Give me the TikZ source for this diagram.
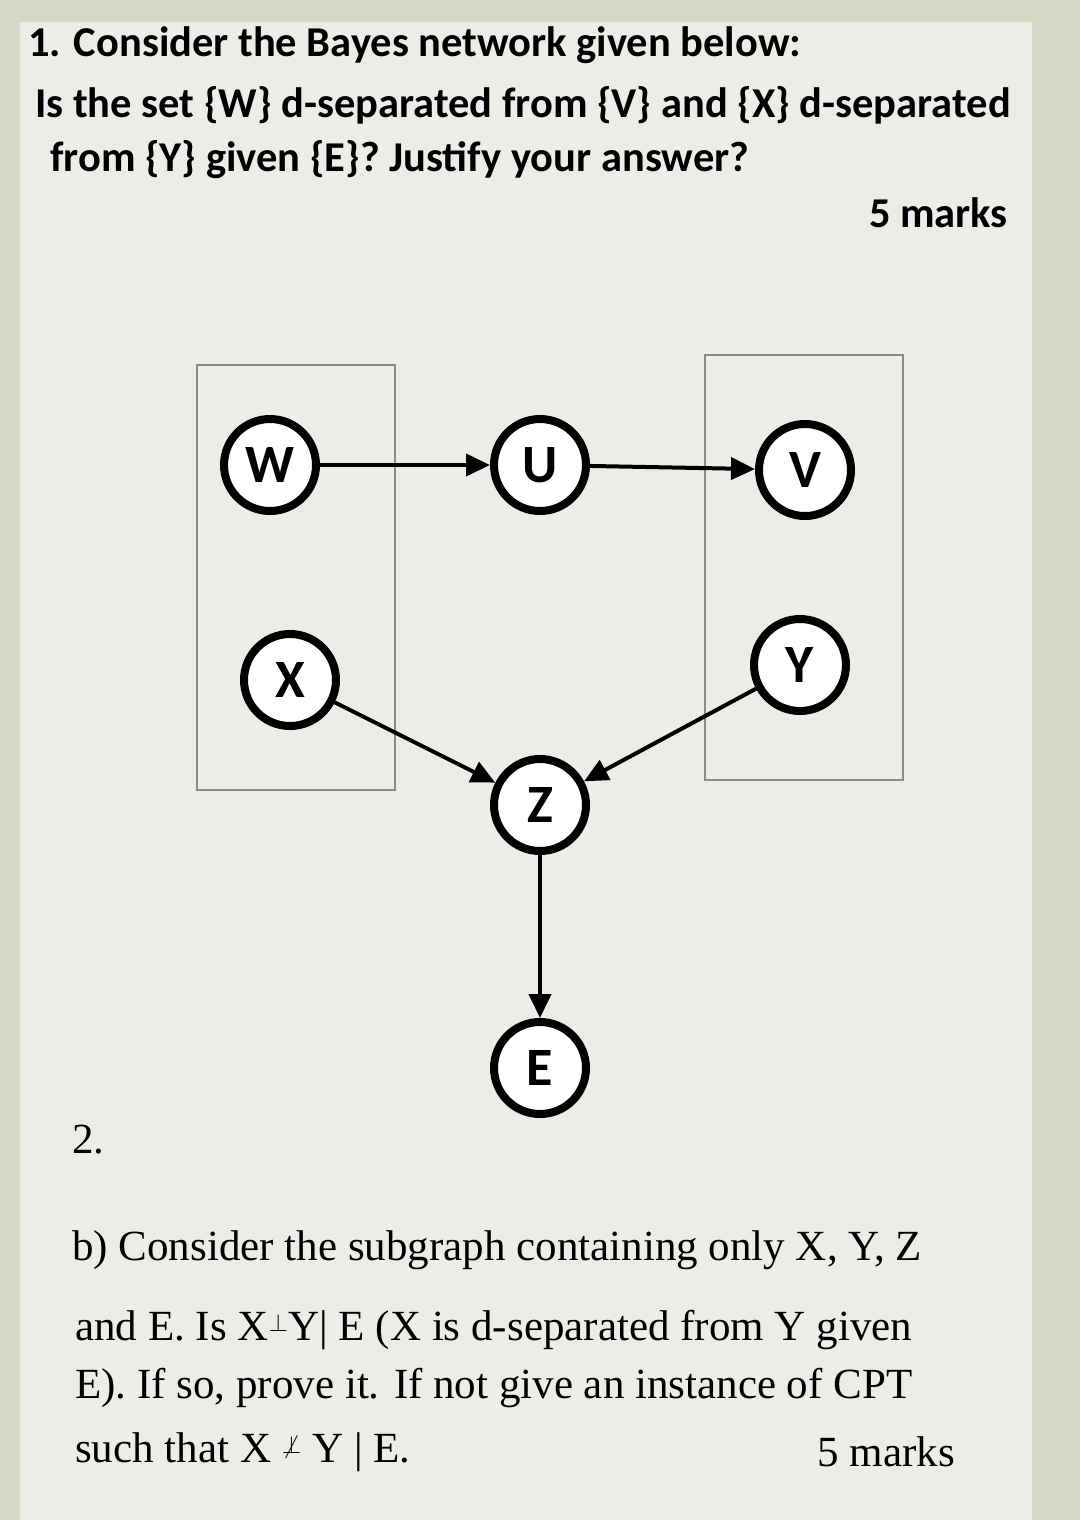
\documentclass[tikz,border=0pt]{standalone}
\usepackage{fontspec}
\usepackage{amssymb}
\setmainfont{Liberation Serif}
\newfontfamily\calfont{Carlito}
\usetikzlibrary{arrows.meta}
\definecolor{bgout}{HTML}{D3D9C4}
\definecolor{bgin}{HTML}{ECEDE8}
\definecolor{boxgray}{HTML}{8A8A88}
\tikzset{
  bn/.style={circle,draw=black,line width=8pt,minimum size=92pt,inner sep=0pt,fill=white,font=\calfont\bfseries\fontsize{54}{58}\selectfont},
  arr/.style={line width=4pt,-{Triangle[length=24pt,width=22pt]}},
  grp/.style={draw=boxgray,line width=2pt},
  qt/.style={anchor=west,inner sep=0pt,font=\calfont\bfseries\fontsize{42.5}{48}\selectfont},
  bt/.style={anchor=west,inner sep=0pt,font=\fontsize{43}{48}\selectfont}
}
\begin{document}
\begin{tikzpicture}[x=1pt,y=-1pt]
\useasboundingbox (0,0) rectangle (1080,1520);
\fill[bgout] (0,0) rectangle (1080,1520);
\fill[bgin] (20,22) rectangle (1032,1520);
\node[qt] (t1) at (28,45) {1. Consider the Bayes network given below:};
\node[qt] (t2) at (35,105) {Is the set \{W\} d-separated from \{V\} and \{X\} d-separated};
\node[qt] (t3) at (50,160) {from \{Y\} given \{E\}? Justify your answer?};
\node[qt,anchor=east] (m1) at (1008,213) {5 marks};
\draw[grp] (197,365) rectangle (395,790);
\draw[grp] (705,355) rectangle (903,780);
\node[bn] (W) at (270,465) {W};
\node[bn] (U) at (540,465) {U};
\node[bn] (V) at (805,470) {V};
\node[bn] (X) at (290,680) {X};
\node[bn] (Y) at (800,665) {Y};
\node[bn] (Z) at (540,805) {Z};
\node[bn] (E) at (540,1068) {E};
\draw[arr] (W) -- (U);
\draw[arr] (U) -- (V);
\draw[arr] (X) -- (Z);
\draw[arr] (Y) -- (Z);
\draw[arr] (Z) -- (E);
\node[bt] (n2) at (72,1140) {2.};
\node[bt] (b1) at (72,1250) {b) Consider the subgraph containing only X, Y, Z};
\node[bt] (b2) at (75,1330) {and E. Is X$^{\perp}$Y| E (X is d-separated from Y given};
\node[bt] (b3) at (75,1388) {E). If so, prove it. If not give an instance of CPT};
\node[bt] (b4) at (75,1452) {such that X $^{\not\perp}$ Y | E.};
\node[bt,anchor=east] (m2) at (955,1452) {5 marks};
\end{tikzpicture}
\end{document}
